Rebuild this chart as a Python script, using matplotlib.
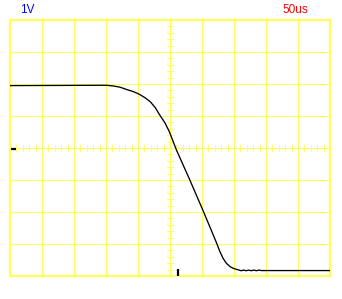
import matplotlib
matplotlib.use("Agg")
import matplotlib.pyplot as plt
import numpy as np

# trace: time in us (50us/div), level in V (1V/div)
time_us = [0, 140, 151, 161, 172, 182, 193, 202, 211, 219, 227, 234, 242, 249, 260, 281,
           300, 312, 323, 328, 333, 338, 344, 350, 357, 361, 365, 369, 373, 377, 381,
           385, 389, 393, 400, 450, 500]
volts = [1.95, 1.96, 1.96, 1.94, 1.90, 1.83, 1.76, 1.68, 1.57, 1.45, 1.26, 1.03, 0.79,
         0.51, -0.06, -1.0, -1.88, -2.45, -2.98, -3.24, -3.45, -3.60, -3.71, -3.77,
         -3.81, -3.835, -3.815, -3.835, -3.815, -3.835, -3.815, -3.835, -3.815, -3.83,
         -3.83, -3.83, -3.83]
volt_label = "1V"
time_label = "50us"
trigger_us = 262

grid_c = "#ffff5a"

fig = plt.figure(figsize=(3.42, 2.99), dpi=100)
ax = fig.add_axes([10 / 342, 23 / 299, 320 / 342, 256 / 299])
ax.set_xlim(0, 500)
ax.set_ylim(-4, 4)

for x in range(50, 500, 50):
    ax.axvline(x, color=grid_c, lw=0.75, zorder=1)
for y in range(-3, 4):
    ax.axhline(y, color=grid_c, lw=0.75, zorder=1)

# small ticks along the centre lines
for x in np.arange(0, 501, 10):
    ax.plot([x, x], [-0.1, 0.1], color=grid_c, lw=0.75, zorder=1)
for y in np.arange(-4, 4.01, 0.2):
    ax.plot([245, 255], [y, y], color=grid_c, lw=0.75, zorder=1)

for s in ax.spines.values():
    s.set_color(grid_c)
    s.set_linewidth(1.6)
ax.set_xticks([])
ax.set_yticks([])

ax.plot(time_us, volts, color="black", lw=0.95, zorder=3)

# ground marker and trigger marker
ax.plot([1, 9], [-0.03, -0.03], color="black", lw=1.6, solid_capstyle="butt", zorder=4)
ax.plot([trigger_us, trigger_us], [-3.78, -4.0], color="black", lw=1.6, solid_capstyle="butt", zorder=4)

fig.text(20 / 342, 1 - 4 / 299, volt_label, color="#0000ff", fontsize=8.5,
         family="Liberation Sans", ha="left", va="top")
fig.text(282 / 342, 1 - 4 / 299, time_label, color="#ff0000", fontsize=8.5,
         family="Liberation Sans", ha="left", va="top")

fig.savefig("out.png", dpi=100, facecolor="white")
